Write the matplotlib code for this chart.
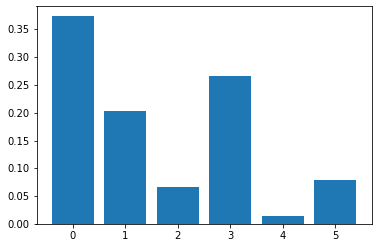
import matplotlib
matplotlib.use("Agg")
import matplotlib.pyplot as plt

# bar heights
labels = [0, 1, 2, 3, 4, 5]
probs = [0.373, 0.203, 0.066, 0.266, 0.014, 0.079]

fig = plt.figure(figsize=(378 / 72, 248 / 72), dpi=72)
ax = fig.add_subplot(111)
ax.bar(labels, probs)
fig.subplots_adjust(left=36.5 / 378, right=371.5 / 378, top=1 - 6 / 248, bottom=1 - 224 / 248)

fig.savefig("out.png", dpi=72)
